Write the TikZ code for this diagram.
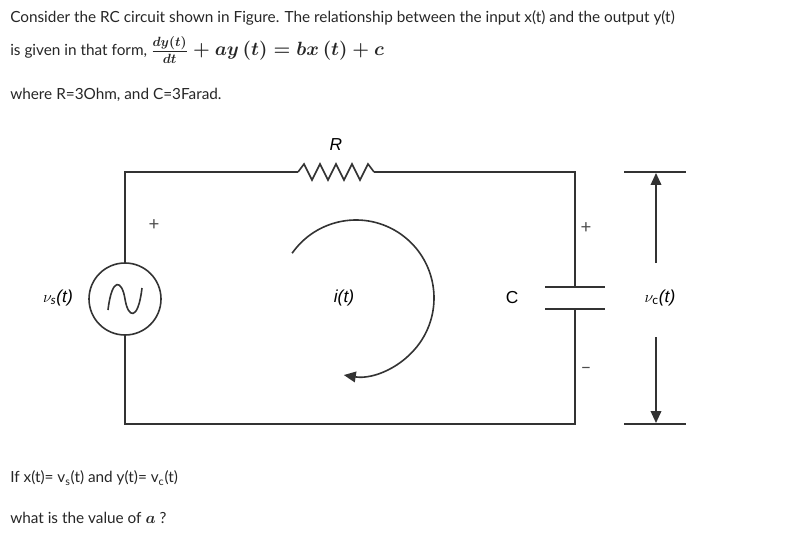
\documentclass[tikz,border=0pt]{standalone}
\usepackage{fontspec}
\setmainfont{Lato}
\newfontfamily\hel{Liberation Sans}
\usetikzlibrary{arrows.meta}
\begin{document}
\begin{tikzpicture}[x=0.75pt,y=-0.75pt,
  txt/.style={anchor=west,inner sep=0pt,font=\fontsize{11.5}{14}\selectfont,text=black!85},
  lbl/.style={inner sep=0pt,font=\hel\fontsize{13}{15}\selectfont},
  wire/.style={line width=1.2pt,black!80},
  pm/.style={inner sep=0pt,font=\fontsize{14}{14}\selectfont,black!70}]
\useasboundingbox (0,0) rectangle (795,552);
\node[txt] (t1) at (10,18) {Consider the RC circuit shown in Figure. The relationship between the input x(t) and the output y(t)};
\node[txt] (t2) at (10,50) {is given in that form, {\fontsize{14}{16}\selectfont\boldmath$\frac{dy(t)}{dt}+ay\left(t\right)=bx\left(t\right)+c$}};
\node[txt] (t3) at (10,95) {where R=3Ohm, and C=3Farad.};
\node[txt] (t4) at (10,478) {If x(t)= v\textsubscript{s}(t) and y(t)= v\textsubscript{c}(t)};
\node[txt] (t5) at (10,518) {what is the value of {\fontsize{13}{14}\selectfont\boldmath$a$} ?};
% circuit
\coordinate (TL) at (125,172); \coordinate (BL) at (125,424);
\coordinate (TR) at (575,172); \coordinate (BR) at (575,424);
\coordinate (R1) at (298,172); \coordinate (R2) at (374,172);
\coordinate (C1) at (575,287); \coordinate (C2) at (575,309);
\node[draw,wire,circle,minimum size=54pt,inner sep=0pt] (src) at (125,299) {};
\draw[wire] (src.north) -- (TL) -- (R1);
\draw[wire] (R1) -- ++(6,-8) -- ++(8,16) -- ++(8,-16) -- ++(8,16) -- ++(8,-16) -- ++(8,16) -- ++(8,-16) -- ++(8,16) -- ++(8,-16) -- (R2);
\draw[wire] (R2) -- (TR) -- (C1);
\draw[wire] (C2) -- (BR) -- (BL) -- (src.south);
\draw[wire] (545,287) -- (605,287);
\draw[wire] (545,309) -- (605,309);
\draw[wire] (108,310) .. controls (112,276) and (122,280) .. (125,299) .. controls (128,318) and (138,322) .. (142,288);
\node[lbl,font=\hel\itshape\fontsize{13}{15}\selectfont] (R) at (336,145) {R};
\node[lbl] (C) at (512,298) {C};
\node[lbl,font=\hel\itshape\fontsize{13}{15}\selectfont] (i) at (344,298) {i(t)};
\node[lbl] (vs) at (58,298) {$\nu_{\mathit{s}}$\textit{(t)}};
\node[lbl] (vc) at (660,298) {$\nu_{\mathrm{c}}$\textit{(t)}};
\node[pm] (p1) at (154,225) {+};
\node[pm] (p2) at (586,228) {+};
\node[pm] (m2) at (586,370) {--};
\draw[wire,-{Triangle[length=9pt,width=8pt]}] (356,298) ++(-145:78) arc[start angle=-145,end angle=99,radius=78];
% dimension
\coordinate (D1) at (624,172); \coordinate (D2) at (686,172);
\coordinate (D3) at (624,424); \coordinate (D4) at (686,424);
\draw[wire] (D1) -- (D2); \draw[wire] (D3) -- (D4);
\draw[wire,-{Triangle[length=9pt,width=8pt]}] (656,263) -- (656,173);
\draw[wire,-{Triangle[length=9pt,width=8pt]}] (656,337) -- (656,423);
\end{tikzpicture}
\end{document}
